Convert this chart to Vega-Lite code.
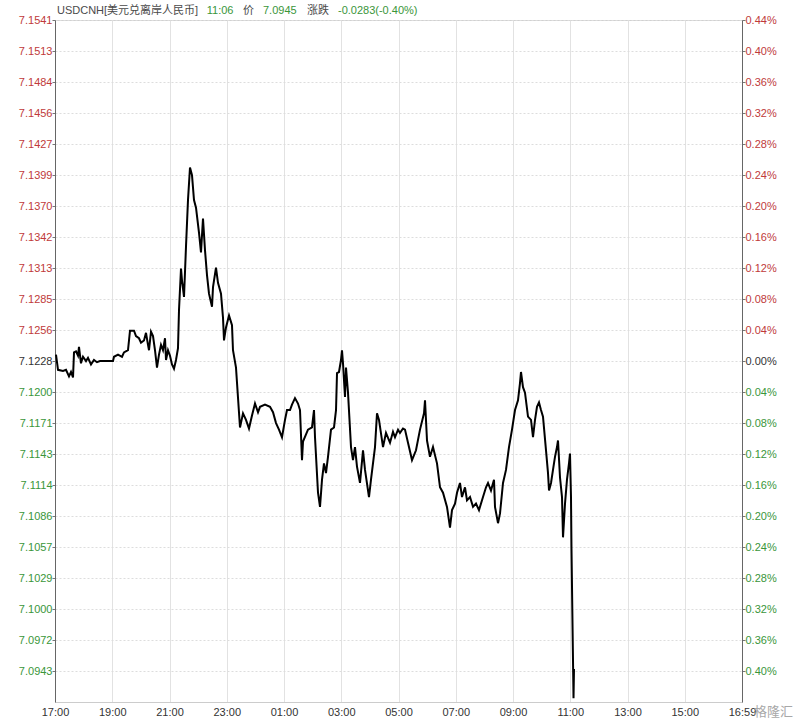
{
  "$schema": "https://vega.github.io/schema/vega-lite/v6.json",
  "width": 687,
  "height": 682,
  "autosize": {"type": "none"},
  "padding": {"left": 55, "top": 20, "right": 54, "bottom": 20},
  "background": "white",
  "config": {"view": {"stroke": "#d0d0d0"}, "font": "Liberation Sans, Noto Sans CJK SC"},
  "datasets": {
    "price": [
      {"t": 0.035, "p": 7.1234}, {"t": 0.105, "p": 7.1220}, {"t": 0.279, "p": 7.1219}, {"t": 0.384, "p": 7.1220},
      {"t": 0.489, "p": 7.1214}, {"t": 0.559, "p": 7.1218}, {"t": 0.629, "p": 7.1213}, {"t": 0.664, "p": 7.1236},
      {"t": 0.734, "p": 7.1237}, {"t": 0.803, "p": 7.1233}, {"t": 0.838, "p": 7.1241}, {"t": 0.908, "p": 7.1226},
      {"t": 0.978, "p": 7.1232}, {"t": 1.083, "p": 7.1228}, {"t": 1.153, "p": 7.1231}, {"t": 1.258, "p": 7.1225},
      {"t": 1.362, "p": 7.1229}, {"t": 1.467, "p": 7.1227}, {"t": 1.572, "p": 7.1228}, {"t": 2.026, "p": 7.1228},
      {"t": 2.061, "p": 7.1232}, {"t": 2.201, "p": 7.1234}, {"t": 2.341, "p": 7.1232}, {"t": 2.410, "p": 7.1236},
      {"t": 2.550, "p": 7.1238}, {"t": 2.620, "p": 7.1256}, {"t": 2.760, "p": 7.1256}, {"t": 2.830, "p": 7.1251},
      {"t": 2.934, "p": 7.1249}, {"t": 3.004, "p": 7.1245}, {"t": 3.109, "p": 7.1247}, {"t": 3.179, "p": 7.1254},
      {"t": 3.249, "p": 7.1243}, {"t": 3.284, "p": 7.1238}, {"t": 3.354, "p": 7.1255}, {"t": 3.424, "p": 7.1251},
      {"t": 3.493, "p": 7.1238}, {"t": 3.563, "p": 7.1222}, {"t": 3.633, "p": 7.1234}, {"t": 3.703, "p": 7.1243},
      {"t": 3.773, "p": 7.1238}, {"t": 3.843, "p": 7.1249}, {"t": 3.878, "p": 7.1229}, {"t": 3.948, "p": 7.1238},
      {"t": 4.017, "p": 7.1233}, {"t": 4.087, "p": 7.1225}, {"t": 4.157, "p": 7.1221}, {"t": 4.227, "p": 7.1229},
      {"t": 4.297, "p": 7.1240}, {"t": 4.332, "p": 7.1275}, {"t": 4.402, "p": 7.1313}, {"t": 4.437, "p": 7.1302},
      {"t": 4.507, "p": 7.1287}, {"t": 4.576, "p": 7.1333}, {"t": 4.646, "p": 7.1376}, {"t": 4.716, "p": 7.1406},
      {"t": 4.786, "p": 7.1399}, {"t": 4.856, "p": 7.1376}, {"t": 4.926, "p": 7.1369}, {"t": 5.031, "p": 7.1346},
      {"t": 5.100, "p": 7.1328}, {"t": 5.170, "p": 7.1359}, {"t": 5.240, "p": 7.1330}, {"t": 5.310, "p": 7.1307},
      {"t": 5.380, "p": 7.1290}, {"t": 5.485, "p": 7.1278}, {"t": 5.520, "p": 7.1296}, {"t": 5.624, "p": 7.1314},
      {"t": 5.694, "p": 7.1300}, {"t": 5.799, "p": 7.1290}, {"t": 5.869, "p": 7.1268}, {"t": 5.904, "p": 7.1247},
      {"t": 5.974, "p": 7.1259}, {"t": 6.079, "p": 7.1270}, {"t": 6.183, "p": 7.1261}, {"t": 6.218, "p": 7.1238},
      {"t": 6.323, "p": 7.1222}, {"t": 6.463, "p": 7.1167}, {"t": 6.568, "p": 7.1180}, {"t": 6.672, "p": 7.1174},
      {"t": 6.777, "p": 7.1166}, {"t": 6.882, "p": 7.1178}, {"t": 6.987, "p": 7.1189}, {"t": 7.092, "p": 7.1181},
      {"t": 7.162, "p": 7.1186}, {"t": 7.336, "p": 7.1188}, {"t": 7.511, "p": 7.1186}, {"t": 7.616, "p": 7.1181},
      {"t": 7.721, "p": 7.1171}, {"t": 7.825, "p": 7.1165}, {"t": 7.930, "p": 7.1158}, {"t": 8.035, "p": 7.1174},
      {"t": 8.105, "p": 7.1183}, {"t": 8.210, "p": 7.1183}, {"t": 8.279, "p": 7.1188}, {"t": 8.384, "p": 7.1194},
      {"t": 8.489, "p": 7.1189}, {"t": 8.559, "p": 7.1183}, {"t": 8.629, "p": 7.1137}, {"t": 8.664, "p": 7.1154},
      {"t": 8.838, "p": 7.1165}, {"t": 8.978, "p": 7.1167}, {"t": 9.048, "p": 7.1183}, {"t": 9.083, "p": 7.1158},
      {"t": 9.188, "p": 7.1107}, {"t": 9.258, "p": 7.1094}, {"t": 9.328, "p": 7.1119}, {"t": 9.397, "p": 7.1134},
      {"t": 9.467, "p": 7.1125}, {"t": 9.537, "p": 7.1140}, {"t": 9.642, "p": 7.1165}, {"t": 9.747, "p": 7.1167},
      {"t": 9.817, "p": 7.1183}, {"t": 9.852, "p": 7.1217}, {"t": 9.921, "p": 7.1218}, {"t": 9.991, "p": 7.1229},
      {"t": 10.026, "p": 7.1238}, {"t": 10.061, "p": 7.1226}, {"t": 10.131, "p": 7.1195}, {"t": 10.166, "p": 7.1222},
      {"t": 10.236, "p": 7.1199}, {"t": 10.341, "p": 7.1149}, {"t": 10.410, "p": 7.1137}, {"t": 10.480, "p": 7.1149},
      {"t": 10.550, "p": 7.1131}, {"t": 10.655, "p": 7.1116}, {"t": 10.760, "p": 7.1146}, {"t": 10.830, "p": 7.1128},
      {"t": 10.969, "p": 7.1103}, {"t": 11.039, "p": 7.1119}, {"t": 11.179, "p": 7.1149}, {"t": 11.249, "p": 7.1180},
      {"t": 11.319, "p": 7.1174}, {"t": 11.459, "p": 7.1149}, {"t": 11.563, "p": 7.1162}, {"t": 11.703, "p": 7.1153},
      {"t": 11.808, "p": 7.1163}, {"t": 11.878, "p": 7.1158}, {"t": 11.983, "p": 7.1165}, {"t": 12.052, "p": 7.1162},
      {"t": 12.157, "p": 7.1166}, {"t": 12.227, "p": 7.1165}, {"t": 12.332, "p": 7.1153}, {"t": 12.472, "p": 7.1137},
      {"t": 12.611, "p": 7.1146}, {"t": 12.751, "p": 7.1165}, {"t": 12.891, "p": 7.1180}, {"t": 12.926, "p": 7.1192},
      {"t": 12.996, "p": 7.1155}, {"t": 13.100, "p": 7.1140}, {"t": 13.205, "p": 7.1149}, {"t": 13.345, "p": 7.1134},
      {"t": 13.450, "p": 7.1112}, {"t": 13.555, "p": 7.1107}, {"t": 13.694, "p": 7.1094}, {"t": 13.799, "p": 7.1075},
      {"t": 13.869, "p": 7.1091}, {"t": 13.974, "p": 7.1097}, {"t": 14.044, "p": 7.1107}, {"t": 14.148, "p": 7.1116},
      {"t": 14.218, "p": 7.1103}, {"t": 14.323, "p": 7.1112}, {"t": 14.393, "p": 7.1100}, {"t": 14.498, "p": 7.1103},
      {"t": 14.603, "p": 7.1094}, {"t": 14.707, "p": 7.1097}, {"t": 14.812, "p": 7.1091}, {"t": 14.952, "p": 7.1103},
      {"t": 15.057, "p": 7.1112}, {"t": 15.127, "p": 7.1116}, {"t": 15.231, "p": 7.1109}, {"t": 15.336, "p": 7.1119},
      {"t": 15.371, "p": 7.1094}, {"t": 15.476, "p": 7.1079}, {"t": 15.546, "p": 7.1088}, {"t": 15.651, "p": 7.1116},
      {"t": 15.755, "p": 7.1128}, {"t": 15.860, "p": 7.1149}, {"t": 15.965, "p": 7.1165}, {"t": 16.070, "p": 7.1183},
      {"t": 16.175, "p": 7.1192}, {"t": 16.245, "p": 7.1208}, {"t": 16.279, "p": 7.1218}, {"t": 16.349, "p": 7.1204},
      {"t": 16.419, "p": 7.1199}, {"t": 16.524, "p": 7.1177}, {"t": 16.629, "p": 7.1174}, {"t": 16.699, "p": 7.1158},
      {"t": 16.769, "p": 7.1174}, {"t": 16.838, "p": 7.1186}, {"t": 16.908, "p": 7.1190}, {"t": 16.978, "p": 7.1183},
      {"t": 17.048, "p": 7.1177}, {"t": 17.153, "p": 7.1146}, {"t": 17.223, "p": 7.1125}, {"t": 17.258, "p": 7.1109},
      {"t": 17.328, "p": 7.1116}, {"t": 17.397, "p": 7.1128}, {"t": 17.467, "p": 7.1140}, {"t": 17.537, "p": 7.1149},
      {"t": 17.572, "p": 7.1155}, {"t": 17.642, "p": 7.1121}, {"t": 17.712, "p": 7.1103}, {"t": 17.747, "p": 7.1066},
      {"t": 17.817, "p": 7.1097}, {"t": 17.886, "p": 7.1119}, {"t": 17.956, "p": 7.1134}, {"t": 17.991, "p": 7.1143},
      {"t": 18.026, "p": 7.1103}, {"t": 18.043, "p": 7.1056}, {"t": 18.096, "p": 7.0953}, {"t": 18.114, "p": 7.0918},
      {"t": 18.131, "p": 7.0945}
    ],
    "header": [
      {"x": 0.07, "text": "USDCNH[美元兑离岸人民币]", "kind": "label"},
      {"x": 5.3, "text": "11:06", "kind": "value"},
      {"x": 6.568, "text": "价", "kind": "label"},
      {"x": 7.266, "text": "7.0945", "kind": "value"},
      {"x": 8.803, "text": "涨跌", "kind": "label"},
      {"x": 9.886, "text": "-0.0283(-0.40%)", "kind": "value"}
    ],
    "mark": [{"label": "格隆汇"}]
  },
  "layer": [
    {
      "data": {"name": "price"},
      "mark": {"type": "line", "color": "#000000", "strokeWidth": 2},
      "encoding": {
        "x": {
          "field": "t", "type": "quantitative",
          "scale": {"domain": [0, 24], "nice": false, "zero": false},
          "axis": {
            "title": null,
            "values": [0, 2, 4, 6, 8, 10, 12, 14, 16, 18, 20, 22, 24],
            "labelExpr": "datum.value == 24 ? '16:59' : ((((17 + datum.value) % 24) < 10 ? '0' : '') + ((17 + datum.value) % 24) + ':00')",
            "tickSize": 0, "labelPadding": 4, "labelFlush": false, "labelOverlap": false,
            "domainColor": "#cccccc", "gridColor": "#e2e2e2", "grid": true,
            "labelColor": "#333333", "labelFontSize": 11, "labelFont": "Liberation Sans"
          }
        },
        "y": {
          "field": "p", "type": "quantitative",
          "scale": {"domain": [7.09146, 7.15416], "nice": false, "zero": false},
          "axis": {
            "title": null, "orient": "left",
            "values": [7.0943088, 7.09715792, 7.10000704, 7.10285616, 7.10570528, 7.1085544, 7.11140352, 7.11425264, 7.11710176, 7.11995088, 7.1228, 7.12564912, 7.12849824, 7.13134736, 7.13419648, 7.1370456, 7.13989472, 7.14274384, 7.14559296, 7.14844208, 7.1512912, 7.15414032],
            "format": ".4f",
            "labelColor": {"condition": [{"test": "datum.value > 7.12285", "value": "#c03a3a"}, {"test": "datum.value < 7.12275", "value": "#3a963a"}], "value": "#333333"},
            "labelFontSize": 11, "labelFont": "Liberation Sans",
            "tickSize": 3, "tickColor": "#777777", "labelPadding": 0,
            "domainColor": "#666666", "grid": true, "gridColor": "#dddddd", "gridDash": [2, 2],
            "labelOverlap": false, "labelFlush": false
          }
        }
      }
    },
    {
      "data": {"name": "price"},
      "mark": {"type": "line", "opacity": 0},
      "encoding": {
        "x": {"field": "t", "type": "quantitative"},
        "y": {
          "field": "p", "type": "quantitative",
          "scale": {"domain": [7.09146, 7.15416], "nice": false, "zero": false},
          "axis": {
            "title": null, "orient": "right",
            "values": [7.0943088, 7.09715792, 7.10000704, 7.10285616, 7.10570528, 7.1085544, 7.11140352, 7.11425264, 7.11710176, 7.11995088, 7.1228, 7.12564912, 7.12849824, 7.13134736, 7.13419648, 7.1370456, 7.13989472, 7.14274384, 7.14559296, 7.14844208, 7.1512912, 7.15414032],
            "labelExpr": "format(abs(datum.value - 7.1228) / 7.1228 * 100, '.2f') + '%'",
            "labelColor": {"condition": [{"test": "datum.value > 7.12285", "value": "#c03a3a"}, {"test": "datum.value < 7.12275", "value": "#3a963a"}], "value": "#333333"},
            "labelFontSize": 11, "labelFont": "Liberation Sans",
            "tickSize": 3, "tickColor": "#777777", "labelPadding": 0,
            "domainColor": "#666666", "grid": false,
            "labelOverlap": false, "labelFlush": false
          }
        }
      }
    },
    {
      "data": {"name": "header"},
      "mark": {"type": "text", "align": "left", "baseline": "bottom", "dy": -4, "fontSize": 11, "font": "Liberation Sans, Noto Sans CJK SC"},
      "encoding": {
        "x": {"field": "x", "type": "quantitative"},
        "y": {"datum": 7.15416, "type": "quantitative", "scale": {"domain": [7.09146, 7.15416], "nice": false, "zero": false}, "axis": null},
        "text": {"field": "text"},
        "color": {"field": "kind", "type": "nominal", "scale": {"domain": ["label", "value"], "range": ["#4a4a4a", "#3a963a"]}, "legend": null}
      }
    },
    {
      "data": {"name": "mark"},
      "mark": {"type": "text", "align": "left", "baseline": "middle", "dx": 12, "dy": 10, "fontSize": 13, "color": "#a8a8a8", "font": "Noto Sans CJK SC"},
      "encoding": {
        "x": {"datum": 24, "type": "quantitative"},
        "y": {"datum": 7.09146, "type": "quantitative", "scale": {"domain": [7.09146, 7.15416], "nice": false, "zero": false}, "axis": null},
        "text": {"field": "label"}
      }
    }
  ],
  "resolve": {"scale": {"y": "independent"}}
}
